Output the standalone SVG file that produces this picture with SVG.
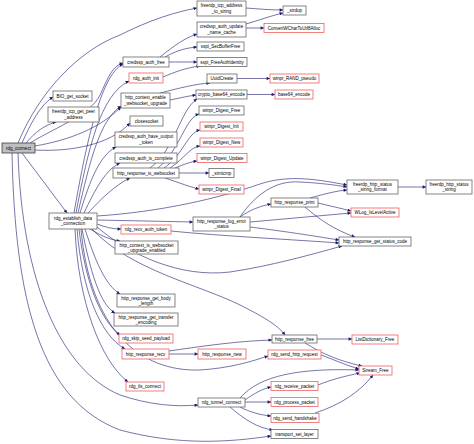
<svg xmlns="http://www.w3.org/2000/svg" width="474" height="444" viewBox="0 0 474 444">
<defs>
<style>
.n rect{fill:#fff;stroke:#666;stroke-width:0.8}
.r rect{fill:#fff;stroke:#f06060;stroke-width:0.8}
.g rect{fill:#bfbfbf;stroke:#404040;stroke-width:0.8}
text{font-family:"Liberation Sans",Arial,sans-serif;font-size:4.5px;text-anchor:middle;fill:#000}
#edges path{fill:none;stroke:#191970;stroke-width:0.6;marker-end:url(#a)}
</style>
<marker id="a" viewBox="0 0 10 10" refX="10" refY="5" markerWidth="4" markerHeight="3.4" markerUnits="userSpaceOnUse" orient="auto">
<path d="M0,0 L10,5 L0,10 z" fill="#191970"/>
</marker>
</defs>
<rect width="474" height="444" fill="#fff"/>
<g id="edges">
<path d="M22,143 C30,125 40,105 53,97"/>
<path d="M26,143 C35,132 45,125 56,122"/>
<path d="M18,143 C40,90 80,50 120,35 C150,20 175,12 197,8"/>
<path d="M30,143 C60,125 90,115 100,95 C108,78 112,66 123,63"/>
<path d="M35,146 C70,140 100,128 121,107"/>
<path d="M35,150 C70,152 110,145 130,123"/>
<path d="M22,153 L67,213"/>
<path d="M18,153 C22,280 60,370 120,395 C150,405 175,407 198,405"/>
<path d="M12,153 C15,300 40,400 120,430 C180,446 230,442 271,436"/>
<path d="M160,57 C175,45 185,38 197,34"/>
<path d="M165,57 C178,50 186,48 197,47"/>
<path d="M169,62 L197,62"/>
<path d="M163,77 C175,72 185,68 200,66"/>
<path d="M246,8 C260,9 270,10 283,10"/>
<path d="M246,24 C260,20 270,16 283,13"/>
<path d="M246,28 L264,28"/>
<path d="M160,93 C180,88 195,84 210,83"/>
<path d="M170,100 C180,98 188,96 196,95"/>
<path d="M237,78.5 L270,78.5"/>
<path d="M247,94.5 L275,94.5"/>
<path d="M150,168 C175,150 180,110 197,99"/>
<path d="M158,168 C180,150 185,118 199,114"/>
<path d="M164,168 C183,155 188,132 200,130"/>
<path d="M170,168 C185,158 190,147 200,146"/>
<path d="M175,168 C185,164 190,162 197,161"/>
<path d="M179,173 L209,173"/>
<path d="M165,178 C180,183 190,187 199,189"/>
<path d="M74,213 C85,150 100,75 123,64"/>
<path d="M76,213 C88,150 100,95 129,81"/>
<path d="M78,213 C90,160 100,120 121,106"/>
<path d="M80,213 C90,180 100,155 116,147"/>
<path d="M84,213 C95,190 105,170 120,163"/>
<path d="M88,213 C100,200 115,185 130,178"/>
<path d="M97,216 C160,212 220,198 260,184 C290,174 320,180 347,185"/>
<path d="M97,220 L193,222"/>
<path d="M97,224 C105,227 112,229 121,229"/>
<path d="M90,229 C100,235 110,240 120,241"/>
<path d="M85,229 C95,260 105,285 120,294"/>
<path d="M82,229 C90,270 100,305 115,313"/>
<path d="M79,229 C85,280 100,320 120,335"/>
<path d="M77,229 C82,290 100,335 125,349"/>
<path d="M75,229 C78,300 100,360 128,382"/>
<path d="M81,229 C90,330 140,372 200,370 C230,368 250,362 268,356"/>
<path d="M92,229 C130,270 200,285 240,305 C260,315 278,325 285,335"/>
<path d="M97,227 C130,255 180,278 230,272 C270,266 310,255 342,246"/>
<path d="M240,217 C255,195 275,180 300,182 C320,183 335,185 347,187"/>
<path d="M240,217 C250,210 260,206 271,204"/>
<path d="M250,222 L351,213"/>
<path d="M250,227 C290,232 320,237 339,240"/>
<path d="M171,231 C220,236 300,240 339,243"/>
<path d="M310,198 C325,194 335,191 347,190"/>
<path d="M318,203 C330,206 340,208 351,211"/>
<path d="M305,207 C320,220 335,230 355,237"/>
<path d="M398,187 L426,187"/>
<path d="M169,354 L198,354"/>
<path d="M169,351 C210,345 240,341 272,340"/>
<path d="M317,339 L352,339"/>
<path d="M305,343 C320,352 335,360 362,366"/>
<path d="M321,355 C335,360 345,365 359,369"/>
<path d="M240,398 C260,375 300,368 359,370"/>
<path d="M318,385 C330,380 345,376 360,373"/>
<path d="M315,413 C340,405 360,392 373,375"/>
<path d="M245,400 C255,393 262,389 271,387"/>
<path d="M245,402 L271,402"/>
<path d="M240,407 C250,412 260,415 271,416"/>
<path d="M230,407 C245,420 258,428 273,430"/>
</g>
<g id="rdg_connect" class="g"><rect x="2" y="143" width="33" height="10"/><text x="18.5" y="149.6">rdg_connect</text></g>
<g id="BIO_get_socket" class="n"><rect x="53" y="91" width="39" height="10"/><text x="72.5" y="97.6">BIO_get_socket</text></g>
<g id="freerdp_tcp_get_peer_address" class="n"><rect x="48" y="107" width="51" height="15"/><text x="73.5" y="113.3">freerdp_tcp_get_peer</text><text x="73.5" y="118.8">_address</text></g>
<g id="freerdp_tcp_address_to_string" class="n"><rect x="197" y="1" width="49" height="15"/><text x="221.5" y="7.3">freerdp_tcp_address</text><text x="221.5" y="12.8">_to_string</text></g>
<g id="credssp_auth_update_name_cache" class="n"><rect x="197" y="22" width="49" height="15"/><text x="221.5" y="28.3">credssp_auth_update</text><text x="221.5" y="33.8">_name_cache</text></g>
<g id="_strdup" class="n"><rect x="283" y="6" width="23" height="9"/><text x="294.5" y="12">_strdup</text></g>
<g id="ConvertWCharToUtf8Alloc" class="r"><rect x="264" y="23.5" width="60" height="9"/><text x="294" y="29.5">ConvertWCharToUtf8Alloc</text></g>
<g id="sspi_SecBufferFree" class="n"><rect x="197" y="42" width="47" height="9"/><text x="220.5" y="48">sspi_SecBufferFree</text></g>
<g id="credssp_auth_free" class="n"><rect x="123" y="57" width="46" height="10"/><text x="146" y="63.6">credssp_auth_free</text></g>
<g id="sspi_FreeAuthIdentity" class="n"><rect x="197" y="57.5" width="50" height="9"/><text x="222" y="63.5">sspi_FreeAuthIdentity</text></g>
<g id="rdg_auth_init" class="r"><rect x="129" y="73" width="34" height="10"/><text x="146" y="79.6">rdg_auth_init</text></g>
<g id="UuidCreate" class="n"><rect x="207" y="74" width="30" height="9"/><text x="222" y="80">UuidCreate</text></g>
<g id="winpr_RAND_pseudo" class="r"><rect x="270" y="74" width="49" height="9"/><text x="294.5" y="80">winpr_RAND_pseudo</text></g>
<g id="http_context_enable_websocket_upgrade" class="n"><rect x="121" y="93" width="49" height="15"/><text x="145.5" y="99.3">http_context_enable</text><text x="145.5" y="104.8">_websocket_upgrade</text></g>
<g id="crypto_base64_encode" class="n"><rect x="196" y="90" width="51" height="9"/><text x="221.5" y="96">crypto_base64_encode</text></g>
<g id="base64_encode" class="r"><rect x="275" y="90" width="38" height="9"/><text x="294" y="96">base64_encode</text></g>
<g id="winpr_Digest_Free" class="n"><rect x="199" y="106" width="45" height="9"/><text x="221.5" y="112">winpr_Digest_Free</text></g>
<g id="closesocket" class="n"><rect x="130" y="116" width="33" height="10"/><text x="146.5" y="122.6">closesocket</text></g>
<g id="winpr_Digest_Init" class="r"><rect x="200" y="122" width="43" height="9"/><text x="221.5" y="128">winpr_Digest_Init</text></g>
<g id="credssp_auth_have_output_token" class="n"><rect x="115" y="132" width="62" height="15"/><text x="146" y="138.3">credssp_auth_have_output</text><text x="146" y="143.8">_token</text></g>
<g id="winpr_Digest_New" class="r"><rect x="200" y="138" width="43" height="9"/><text x="221.5" y="144">winpr_Digest_New</text></g>
<g id="credssp_auth_is_complete" class="n"><rect x="115" y="153" width="62" height="10"/><text x="146" y="159.6">credssp_auth_is_complete</text></g>
<g id="winpr_Digest_Update" class="r"><rect x="197" y="153.5" width="50" height="9"/><text x="222" y="159.5">winpr_Digest_Update</text></g>
<g id="http_response_is_websocket" class="n"><rect x="113" y="168" width="66" height="10"/><text x="146" y="174.6">http_response_is_websocket</text></g>
<g id="_strnicmp" class="n"><rect x="209" y="168.5" width="25" height="9"/><text x="221.5" y="174.5">_strnicmp</text></g>
<g id="winpr_Digest_Final" class="r"><rect x="199" y="185" width="45" height="9"/><text x="221.5" y="191">winpr_Digest_Final</text></g>
<g id="freerdp_http_status_string_format" class="n"><rect x="347" y="180" width="51" height="14"/><text x="372.5" y="185.8">freerdp_http_status</text><text x="372.5" y="191.3">_string_format</text></g>
<g id="freerdp_http_status_string" class="n"><rect x="426" y="180" width="46" height="14"/><text x="449" y="185.8">freerdp_http_status</text><text x="449" y="191.3">_string</text></g>
<g id="http_response_print" class="n"><rect x="271" y="198" width="47" height="9"/><text x="294.5" y="204">http_response_print</text></g>
<g id="WLog_IsLevelActive" class="r"><rect x="351" y="208" width="48" height="9"/><text x="375" y="214">WLog_IsLevelActive</text></g>
<g id="rdg_establish_data_connection" class="n"><rect x="49" y="213" width="48" height="16"/><text x="73" y="219.6">rdg_establish_data</text><text x="73" y="225.1">_connection</text></g>
<g id="http_response_log_error_status" class="n"><rect x="193" y="217" width="57" height="14"/><text x="221.5" y="222.8">http_response_log_error</text><text x="221.5" y="228.3">_status</text></g>
<g id="rdg_recv_auth_token" class="r"><rect x="121" y="225" width="50" height="9"/><text x="146" y="231">rdg_recv_auth_token</text></g>
<g id="http_response_get_status_code" class="n"><rect x="339" y="237" width="72" height="9"/><text x="375" y="243">http_response_get_status_code</text></g>
<g id="http_context_is_websocket_upgrade_enabled" class="n"><rect x="115" y="241" width="63" height="13"/><text x="146.5" y="246.5">http_context_is_websocket</text><text x="146.5" y="252">_upgrade_enabled</text></g>
<g id="http_response_get_body_length" class="n"><rect x="117" y="294" width="58" height="13"/><text x="146" y="299.5">http_response_get_body</text><text x="146" y="305">_length</text></g>
<g id="http_response_get_transfer_encoding" class="n"><rect x="114" y="313" width="64" height="13"/><text x="146" y="318.5">http_response_get_transfer</text><text x="146" y="324">_encoding</text></g>
<g id="rdg_skip_seed_payload" class="r"><rect x="119" y="334" width="54" height="9"/><text x="146" y="340">rdg_skip_seed_payload</text></g>
<g id="http_response_free" class="n"><rect x="272" y="335" width="45" height="8"/><text x="294.5" y="340.6">http_response_free</text></g>
<g id="ListDictionary_Free" class="r"><rect x="352" y="335" width="46" height="9"/><text x="375" y="341">ListDictionary_Free</text></g>
<g id="http_response_recv" class="r"><rect x="122" y="349" width="47" height="10"/><text x="145.5" y="355.6">http_response_recv</text></g>
<g id="http_response_new" class="r"><rect x="198" y="349" width="48" height="10"/><text x="222" y="355.6">http_response_new</text></g>
<g id="rdg_send_http_request" class="r"><rect x="268" y="350" width="53" height="9"/><text x="294.5" y="356">rdg_send_http_request</text></g>
<g id="Stream_Free" class="r"><rect x="359" y="366" width="33" height="9"/><text x="375.5" y="372">Stream_Free</text></g>
<g id="rdg_receive_packet" class="r"><rect x="271" y="381.5" width="47" height="9"/><text x="294.5" y="387.5">rdg_receive_packet</text></g>
<g id="rdg_tls_connect" class="r"><rect x="126" y="382" width="38" height="9"/><text x="145" y="388">rdg_tls_connect</text></g>
<g id="rdg_tunnel_connect" class="n"><rect x="198" y="398" width="47" height="9"/><text x="221.5" y="404">rdg_tunnel_connect</text></g>
<g id="rdg_process_packet" class="r"><rect x="271" y="397.5" width="47" height="9"/><text x="294.5" y="403.5">rdg_process_packet</text></g>
<g id="rdg_send_handshake" class="r"><rect x="271" y="413.5" width="48" height="9"/><text x="295" y="419.5">rdg_send_handshake</text></g>
<g id="transport_set_layer" class="n"><rect x="271" y="429.5" width="47" height="9"/><text x="294.5" y="435.5">transport_set_layer</text></g>
</svg>
